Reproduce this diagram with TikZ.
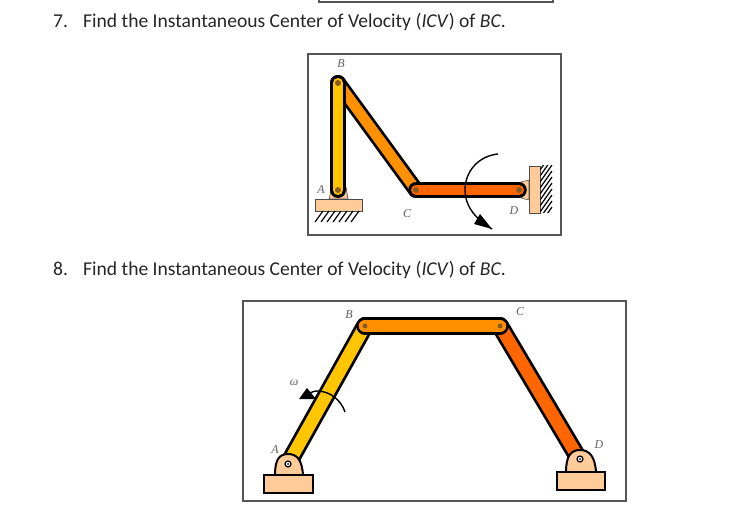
\documentclass[tikz,border=0pt]{standalone}
\usepackage{fontspec}
\setmainfont{Carlito}
\newfontfamily\figfont{Liberation Serif}
\definecolor{linkyel}{HTML}{FFC600}
\definecolor{linkorg}{HTML}{FF9100}
\definecolor{linkred}{HTML}{FF6600}
\definecolor{peach}{HTML}{FFCC99}
\definecolor{pinbrown}{HTML}{8A5A22}
\definecolor{framegray}{HTML}{555555}
\definecolor{labgray}{HTML}{606060}
\tikzset{
  frame/.style={draw=framegray,line width=1.4pt,fill=white},
  headline/.style={anchor=base west,font=\fontsize{19.6}{22}\selectfont,text=black!85,inner sep=0pt},
  lab/.style={font=\figfont\itshape\fontsize{12}{13}\selectfont,text=labgray,inner sep=0pt},
  outer/.style={line width=#1,draw=black,line cap=round},
  inner/.style={line width=#1,line cap=round},
  pin/.style={circle,fill=pinbrown,inner sep=0pt,minimum size=6pt},
  smallpin/.style={circle,fill=white,draw=black,line width=1.2pt,inner sep=0pt,minimum size=6pt},
  pincore/.style={circle,fill=black!75,inner sep=0pt,minimum size=2.5pt},
  dot/.style={circle,fill=pinbrown,inner sep=0pt,minimum size=5pt},
  support/.style={draw=black!70,fill=peach,line width=.6pt},
  heavy/.style={draw=black,fill=peach,line width=2pt},
  hatchline/.style={draw=black,line width=1.2pt},
  spin/.style={draw=black,line width=1.4pt}
}
\begin{document}
\begin{tikzpicture}[x=1pt,y=-1pt]
\useasboundingbox (0,0) rectangle (745,516);
\begin{scope}
\clip (0,0) rectangle (745,516);
\draw[frame] (319,-6) rectangle (553,2);
\end{scope}
\node[headline] (n7) at (53,28) {7.};
\node[headline] (t7) at (83,28) {Find the Instantaneous Center of Velocity (\textit{ICV}) of \textit{BC}.};
\node[headline] (n8) at (53,275) {8.};
\node[headline] (t8) at (83,275) {Find the Instantaneous Center of Velocity (\textit{ICV}) of \textit{BC}.};
% ---- figure 7
\draw[frame] (308,54) rectangle (561,235);
\coordinate (A1) at (338,190);
\coordinate (B1) at (338,83);
\coordinate (C1) at (416,190);
\coordinate (D1) at (519,190);
% supports
\draw[support] (329,199) -- (331,191) -- (346,187) -- (348,199) -- cycle;
\draw[support] (315,199) rectangle (362,211);
\foreach \x in {315,321,...,353}{\draw[hatchline] (\x,222) -- (\x+8,211);}
\draw[support] (521,182) -- (529,180) -- (529,200) -- (521,198) -- cycle;
\draw[support] (529,166) rectangle (540,213);
\begin{scope}
\clip (540,166) rectangle (553,213);
\foreach \y in {170,176,...,236}{\draw[hatchline] (540,\y) -- (552,\y-17);}
\end{scope}
% links
\draw[outer=16pt] (B1) -- (C1);
\draw[inner=10.5pt,draw=linkorg] (B1) -- (C1);
\draw[outer=15.5pt] (C1) -- (D1);
\draw[inner=10pt,draw=linkred] (C1) -- (D1);
\draw[outer=16pt] (A1) -- (B1);
\draw[inner=10pt,draw=linkyel] (A1) -- (B1);
\node[pin] (pA1) at (A1) {};
\node[pin] (pB1) at (B1) {};
\node[pin] (pC1) at (C1) {};
\node[pin] (pD1) at (D1) {};
% rotation arrow
\coordinate (s1) at (498,154);
\coordinate (e1) at (492,229);
\draw[spin] (s1) .. controls (478,156) and (465,172) .. (465,190) .. controls (465,205) and (474,218) .. (e1);
\fill[black] (e1) -- (474,224) -- (480,214) -- cycle;
\node[lab] (lB1) at (341,64) {B};
\node[lab] (lA1) at (321,190) {A};
\node[lab] (lC1) at (407,214) {C};
\node[lab] (lD1) at (514,211) {D};
% ---- figure 8
\draw[frame] (243,301) rectangle (626,501);
\coordinate (A2) at (288,464);
\coordinate (B2) at (365,326);
\coordinate (C2) at (500,326);
\coordinate (D2) at (579,459);
\draw[outer=18pt] (A2) -- (B2);
\draw[inner=12.5pt,draw=linkyel] (A2) -- (B2);
\draw[outer=18pt] (C2) -- (D2);
\draw[inner=12.5pt,draw=linkred] (C2) -- (D2);
\draw[outer=17.5pt] (B2) -- (C2);
\draw[inner=12.5pt,draw=linkorg] (B2) -- (C2);
\node[dot] (pB2) at (B2) {};
\node[dot] (pC2) at (C2) {};
% A support
\draw[heavy] (275,475) .. controls (275,460) and (279,454) .. (288,454) .. controls (297,454) and (302,460) .. (303,475) -- cycle;
\draw[heavy] (264,475) rectangle (313,493);
\node[smallpin] (pA2) at (A2) {};
\node[pincore] (cA2) at (A2) {};
% D support
\draw[heavy] (566,472) .. controls (566,456) and (571,450) .. (580,450) .. controls (589,450) and (595,456) .. (596,472) -- cycle;
\draw[heavy] (557,472) rectangle (605,490);
\node[smallpin] (pD2) at (580,459) {};
\node[pincore] (cD2) at (580,459) {};
% rotation arrow
\coordinate (s2) at (345,412);
\coordinate (e2) at (307,395);
\draw[spin] (s2) .. controls (341,400) and (330,391) .. (317,391) .. controls (313,391) and (310,393) .. (e2);
\fill[black] (299,399) -- (307,388) -- (316,399) -- cycle;
\node[lab] (lB2) at (349,315) {B};
\node[lab] (lC2) at (520,312) {C};
\node[lab] (lA2) at (275,450) {A};
\node[lab] (lD2) at (599,445) {D};
\node[lab] (lw) at (294,383) {ω};
\end{tikzpicture}
\end{document}
